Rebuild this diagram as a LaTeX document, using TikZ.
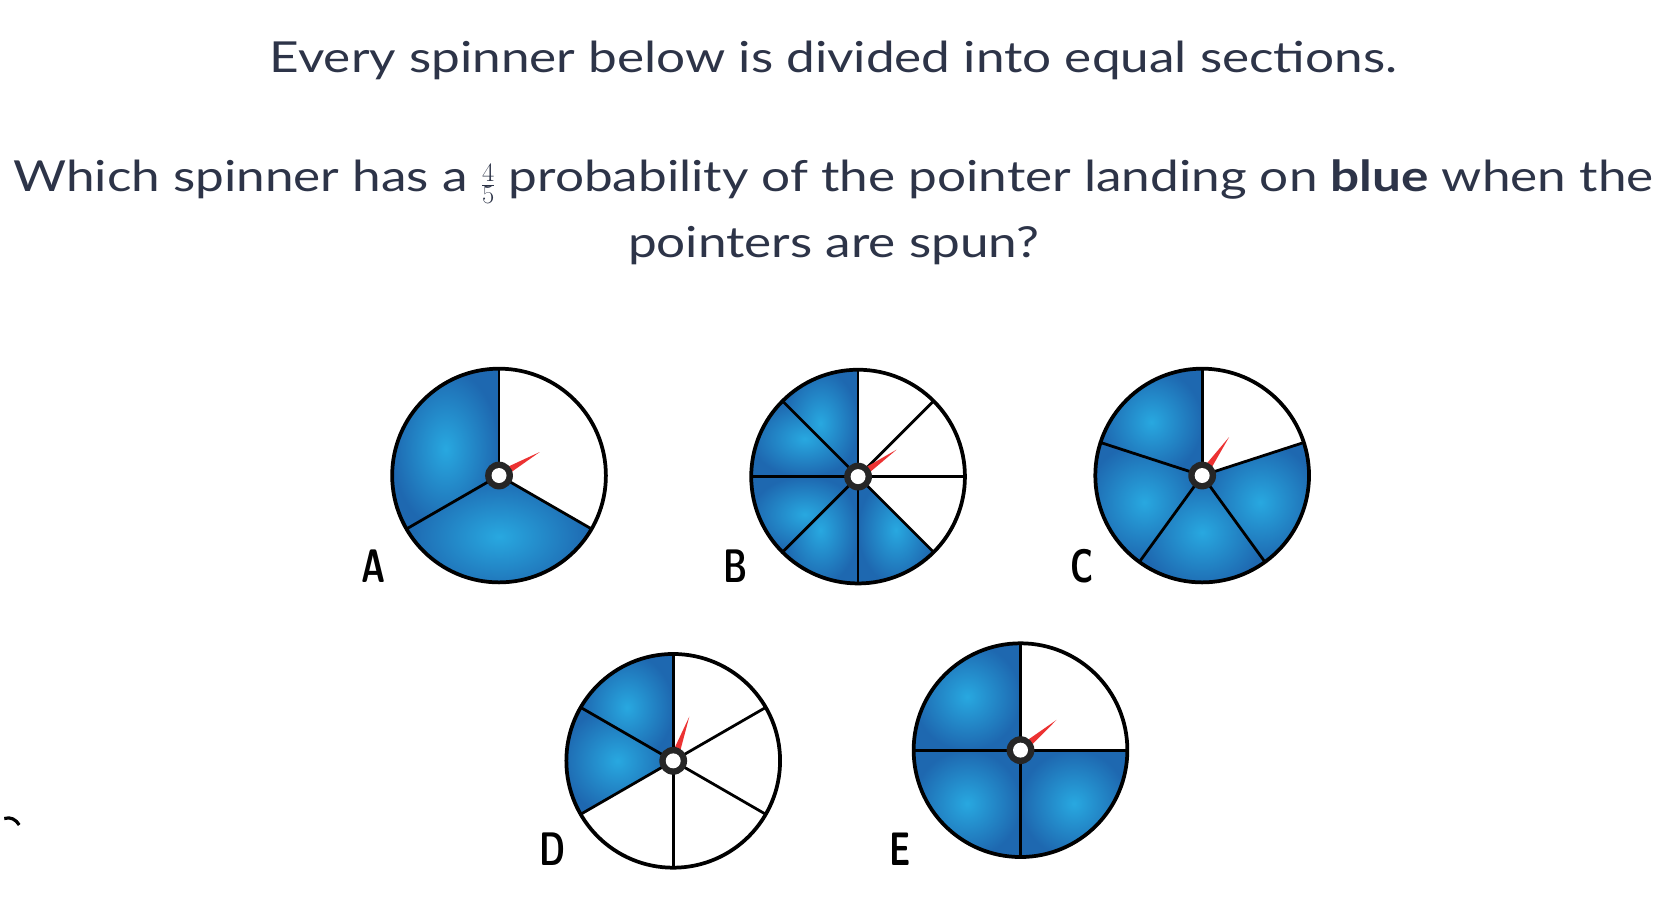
\documentclass[tikz,border=0pt]{standalone}
\usepackage{fontspec}
\setmainfont{Lato}[FakeStretch=1.2]
\usetikzlibrary{calc}
\definecolor{inkgray}{RGB}{45,52,72}
\definecolor{blueedge}{RGB}{30,104,176}
\definecolor{bluecore}{RGB}{40,168,224}
\definecolor{pointred}{RGB}{236,50,50}
\tikzset{every picture/.style={line width=0.75pt}}
\tikzset{
  blueslice/.style={inner color=bluecore, outer color=blueedge},
  rim/.style={draw=black, line width=3.5pt},
  spoke/.style={draw=black, line width=2.6pt},
  letter/.style={font=\sffamily\bfseries\fontsize{44}{44}\selectfont, xscale=0.7},
  question/.style={text=inkgray, font=\fontsize{40}{46}\selectfont},
}
% #1 centre, #2 sections, #3 first boundary, #4 blue sections, #5 pointer angle
\newcommand{\spinner}[5]{%
  \fill[white] (#1) circle[radius=100];
  \foreach \k in {#4} {
    \shade[blueslice] (#1) -- ++({-(#3)-(\k-1)*360/#2}:100)
      arc[start angle={-(#3)-(\k-1)*360/#2}, end angle={-(#3)-\k*360/#2}, radius=100] -- cycle;
  }
  \foreach \k in {1,...,#2} {
    \draw[spoke] (#1) -- ++({-(#3)-(\k-1)*360/#2}:100);
  }
  \draw[rim] (#1) circle[radius=100];
  \fill[pointred] ($(#1)+({-(#5)+90}:4)$) -- ($(#1)+({-(#5)}:44)$) -- ($(#1)+({-(#5)-90}:4)$) -- cycle;
  \fill[black!85] (#1) circle[radius=13];
  \fill[white] (#1) circle[radius=7];
}

\begin{document}
\begin{tikzpicture}[x=1pt,y=1pt,yscale=-1,xscale=1]
\useasboundingbox (0,0) rectangle (1560,854);
\fill[white] (0,0) rectangle (1560,854);

% Text Node
\node[question] (title) at (780,57) {Every spinner below is divided into equal sections.};
% Text Node
\node[question] (ask) at (780,170) {Which spinner has a {\fontsize{48}{48}\selectfont$\frac{4}{5}$} probability of the pointer landing on \textbf{blue} when the};
% Text Node
\node[question] (ask2) at (780,230) {pointers are spun?};

\coordinate (sA) at (467,445);
\coordinate (sB) at (803,446);
\coordinate (sC) at (1125,445);
\coordinate (sD) at (630,712);
\coordinate (sE) at (955,702);

\spinner{sA}{3}{90}{1,2}{30}
\spinner{sB}{8}{0}{3,4,5,6,7}{35}
\spinner{sC}{5}{18}{2,3,4,5}{55}
\spinner{sD}{6}{30}{2,3}{70}
\spinner{sE}{4}{0}{2,3,4}{40}

% Text Node
\node[letter] (lblA) at (350,530) {A};
\node[letter] (lblB) at (688,530) {B};
\node[letter] (lblC) at (1013,530) {C};
\node[letter] (lblD) at (517,795) {D};
\node[letter] (lblE) at (842,795) {E};

% stray arc at the left edge
\draw[black, line width=3pt] (4,766) .. controls (10,764) and (15,767) .. (18,772);

\end{tikzpicture}
\end{document}
